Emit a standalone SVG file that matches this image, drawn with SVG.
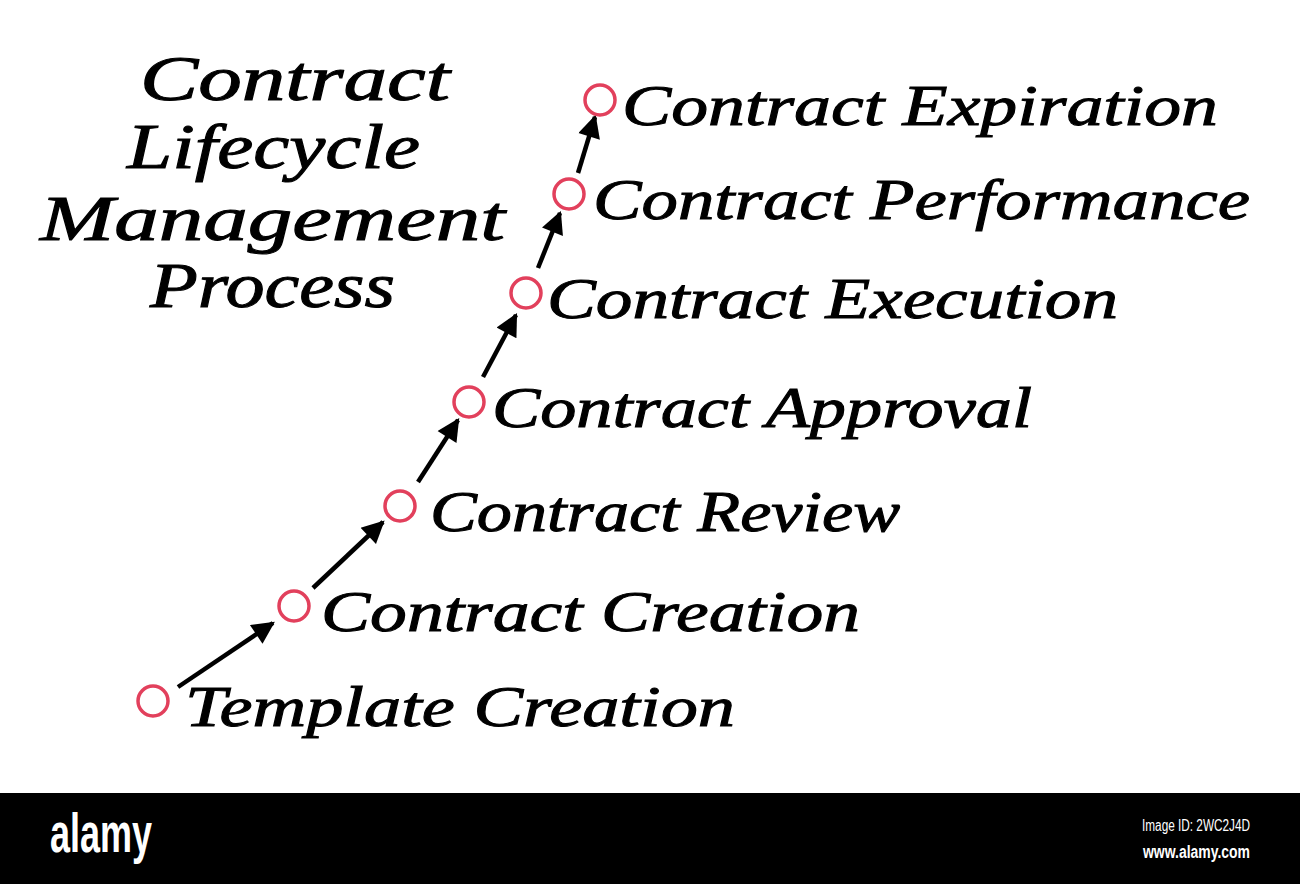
<svg xmlns="http://www.w3.org/2000/svg" width="1300" height="884" viewBox="0 0 1300 884">
<style>
.lbl{font-family:"Liberation Serif","DejaVu Serif",serif;font-style:italic;font-size:58px;fill:#000;stroke:#000;stroke-width:1}
.ttl{font-family:"Liberation Serif","DejaVu Serif",serif;font-style:italic;font-size:64px;fill:#000;stroke:#000;stroke-width:1}
.node circle{fill:none;stroke:#e2405c;stroke-width:3.5}
.conn line{stroke:#000;stroke-width:4.5}
</style>
<defs>
<marker id="ah" viewBox="0 0 10 10" refX="9" refY="5" markerWidth="5.5" markerHeight="5" orient="auto" markerUnits="strokeWidth">
<path d="M0,0 L10,5 L0,10 z" fill="#000"/>
</marker>
</defs>
<rect x="0" y="0" width="1300" height="884" fill="#fff"/>
<g id="title">
<text class="ttl" x="140" y="100" textLength="310" lengthAdjust="spacingAndGlyphs">Contract</text>
<text class="ttl" x="127" y="168" textLength="293" lengthAdjust="spacingAndGlyphs">Lifecycle</text>
<text class="ttl" x="40" y="240" textLength="465" lengthAdjust="spacingAndGlyphs">Management</text>
<text class="ttl" x="150" y="307" textLength="245" lengthAdjust="spacingAndGlyphs">Process</text>
</g>
<g id="connectors" class="conn">
<line x1="178" y1="687" x2="273" y2="623" marker-end="url(#ah)"/>
<line x1="313" y1="588" x2="383" y2="522" marker-end="url(#ah)"/>
<line x1="418" y1="482" x2="458" y2="420" marker-end="url(#ah)"/>
<line x1="483" y1="377" x2="516" y2="315" marker-end="url(#ah)"/>
<line x1="538" y1="268" x2="560" y2="213" marker-end="url(#ah)"/>
<line x1="578" y1="173" x2="595" y2="117" marker-end="url(#ah)"/>
</g>
<g id="n1" class="node"><circle cx="153" cy="701" r="15"/><text class="lbl" x="185" y="726" textLength="550" lengthAdjust="spacingAndGlyphs">Template Creation</text></g>
<g id="n2" class="node"><circle cx="294" cy="606" r="15"/><text class="lbl" x="321" y="631" textLength="539" lengthAdjust="spacingAndGlyphs">Contract Creation</text></g>
<g id="n3" class="node"><circle cx="400" cy="506" r="15"/><text class="lbl" x="430" y="531" textLength="470" lengthAdjust="spacingAndGlyphs">Contract Review</text></g>
<g id="n4" class="node"><circle cx="469" cy="402" r="15"/><text class="lbl" x="492" y="427" textLength="540" lengthAdjust="spacingAndGlyphs">Contract Approval</text></g>
<g id="n5" class="node"><circle cx="526" cy="293" r="15"/><text class="lbl" x="547" y="318" textLength="571" lengthAdjust="spacingAndGlyphs">Contract Execution</text></g>
<g id="n6" class="node"><circle cx="569" cy="194" r="15"/><text class="lbl" x="593" y="219" textLength="657" lengthAdjust="spacingAndGlyphs">Contract Performance</text></g>
<g id="n7" class="node"><circle cx="600" cy="100" r="15"/><text class="lbl" x="622" y="125" textLength="596" lengthAdjust="spacingAndGlyphs">Contract Expiration</text></g>
<g id="footer">
<rect x="0" y="793" width="1300" height="91" fill="#000"/>
<text x="50" y="852" font-family="Liberation Sans,Arial,sans-serif" font-weight="bold" font-size="56" fill="#fff" textLength="102" lengthAdjust="spacingAndGlyphs">alamy</text>
<text x="1250" y="831" text-anchor="end" font-family="Liberation Sans,Arial,sans-serif" font-size="16" fill="#fff" textLength="108" lengthAdjust="spacingAndGlyphs">Image ID: 2WC2J4D</text>
<text x="1250" y="858" text-anchor="end" font-family="Liberation Sans,Arial,sans-serif" font-weight="bold" font-size="18" fill="#fff" textLength="107" lengthAdjust="spacingAndGlyphs">www.alamy.com</text>
</g>
</svg>
